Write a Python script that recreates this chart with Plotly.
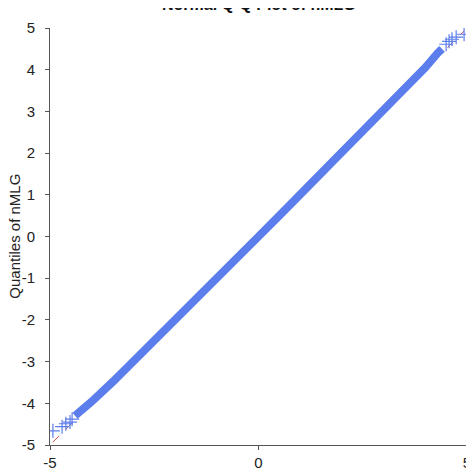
import plotly.graph_objects as go

# theoretical (standard normal) quantiles vs sample quantiles of nMLG
body_x = [-4.40, -4.30, -4.0, -3.5, -3.0, -2.5, -2.0, -1.5, -1.0, -0.5, 0.0,
          0.5, 1.0, 1.5, 2.0, 2.5, 3.0, 3.5, 4.0, 4.30, 4.40]
body_y = [-4.30, -4.22, -3.96, -3.49, -3.0, -2.5, -2.0, -1.5, -1.0, -0.5, 0.0,
          0.5, 1.0, 1.5, 2.0, 2.5, 3.0, 3.52, 4.05, 4.40, 4.50]

tail_x = [-4.93, -4.71, -4.62, -4.52, -4.47, 4.50, 4.57, 4.64, 4.74, 4.93]
tail_y = [-4.66, -4.56, -4.49, -4.45, -4.38, 4.61, 4.68, 4.73, 4.78, 4.85]

ref_x = [-4.93, 4.93]
ref_y = [-4.93, 4.93]

x_ticks = [-5, 0, 5]
y_ticks = [-5, -4, -3, -2, -1, 0, 1, 2, 3, 4, 5]

BLUE = "rgb(92,126,236)"
RED = "rgb(214,80,80)"
FONT = "Liberation Sans, Arial, Helvetica, sans-serif"

fig = go.Figure()

# reference line
fig.add_trace(go.Scatter(x=ref_x, y=ref_y, mode="lines",
                         line=dict(color=RED, width=1, dash="dash"),
                         showlegend=False))

# dense body of the sample (drawn as a thick band of points)
fig.add_trace(go.Scatter(x=body_x, y=body_y, mode="lines",
                         line=dict(color=BLUE, width=8),
                         showlegend=False))

# sparse tail points
fig.add_trace(go.Scatter(x=tail_x, y=tail_y, mode="markers",
                         marker=dict(symbol="cross-thin", size=10,
                                     line=dict(color=BLUE, width=1.2)),
                         showlegend=False))

axis_common = dict(
    range=[-5, 5], showgrid=False, zeroline=False,
    showline=True, linecolor="#555", linewidth=1,
    ticks="outside", ticklen=4, tickcolor="#555",
    tickfont=dict(family=FONT, size=15, color="#222"),
    mirror=False,
)

fig.update_xaxes(**axis_common, tickvals=x_ticks, ticktext=[str(v) for v in x_ticks])
fig.update_yaxes(**axis_common, tickvals=y_ticks, ticktext=[str(v) for v in y_ticks])
# long invisible major ticks push the labels away from the axis,
# short visible minor ticks at the same spots draw the tick marks
fig.update_yaxes(ticklen=11, tickcolor="rgba(0,0,0,0)",
                 minor=dict(tickvals=y_ticks, ticks="outside", ticklen=4,
                            tickcolor="#555", showgrid=False))

fig.add_annotation(text="<b>Normal Q-Q Plot of nMLG</b>", xref="paper", yref="paper",
                   x=0.5, y=1, yanchor="bottom", yshift=13, showarrow=False,
                   font=dict(family=FONT, size=16, color="#111"))
fig.add_annotation(text="Standard Normal Quantiles", xref="paper", yref="paper",
                   x=0.5, y=0, yanchor="top", yshift=-26, showarrow=False,
                   font=dict(family=FONT, size=14, color="#222"))
fig.add_annotation(text="Quantiles of nMLG", xref="paper", yref="paper",
                   x=-0.069, y=0.5, xanchor="center", xshift=-7, yanchor="middle",
                   textangle=-90, showarrow=False,
                   font=dict(family=FONT, size=15, color="#222"))

fig.update_layout(
    width=474, height=474,
    margin=dict(l=42, r=11, t=20, b=29),
    plot_bgcolor="white", paper_bgcolor="white",
)

fig.write_html("out.html")
